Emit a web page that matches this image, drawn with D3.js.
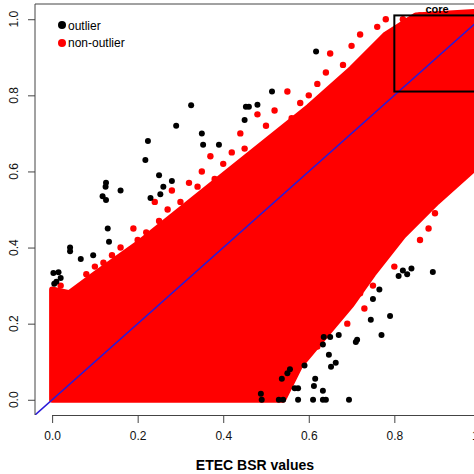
<!DOCTYPE html>
<html><head><meta charset="utf-8">
<script src="https://cdn.jsdelivr.net/npm/d3@7"></script>
<style>body{margin:0;background:#fff}svg{font-family:"Liberation Sans",Arial,sans-serif}</style>
</head><body><svg id="c" width="474" height="474"></svg>
<script>
const xTicks=[0,0.2,0.4,0.6,0.8,1.0];
const yTicks=[0,0.2,0.4,0.6,0.8,1.0];
// dense region boundary of the non-outlier cloud (data coords)
const denseRegion=[[0,0],[0,0.29],[0.04,0.28],[0.1,0.33],[0.2,0.41],[0.3,0.5],[0.4,0.59],[0.5,0.68],[0.6,0.77],[0.7,0.87],[0.78,0.96],[0.85,1.01],[1.0,1.02],[1.0,0.62],[0.9,0.52],[0.82,0.43],[0.75,0.33],[0.7,0.25],[0.64,0.17],[0.58,0.09],[0.54,0.0]];
const nonOutlierX=[0.02,0.06,0.08,0.1,0.12,0.14,0.16,0.18,0.2,0.22,0.19,0.25,0.27,0.24,0.3,0.28,0.32,0.35,0.37,0.34,0.38,0.4,0.42,0.45,0.44,0.48,0.5,0.52,0.55,0.56,0.58,0.6,0.62,0.64,0.65,0.68,0.7,0.72,0.74,0.76,0.78,0.82,0.86,0.9,0.95,
0.86,0.81,0.8,0.75,0.73,0.69,0.64,0.59,0.58,0.5,0.47,0.965,0.925,0.87,0.86,0.895,0.84,0.88,0.78,0.72,0.66,0.62,0.55,0.53,0.91,0.98,0.93];
const nonOutlierY=[0.3,0.29,0.33,0.35,0.36,0.38,0.4,0.39,0.42,0.44,0.45,0.47,0.5,0.52,0.52,0.55,0.57,0.6,0.64,0.56,0.58,0.62,0.65,0.66,0.7,0.75,0.72,0.76,0.81,0.74,0.78,0.8,0.83,0.86,0.91,0.88,0.93,0.96,0.9,0.98,1.0,1.0,1.01,1.01,1.01,
0.42,0.42,0.35,0.3,0.24,0.2,0.17,0.165,0.11,0.05,0.01,0.66,0.66,0.62,0.55,0.49,0.52,0.45,0.38,0.28,0.22,0.14,0.08,0.02,0.56,0.72,0.6];
const outlierX=[0.325,0.29,0.35,0.353,0.39,0.224,0.218,0.25,0.26,0.253,0.23,0.28,0.16,0.126,0.125,0.118,0.126,0.13,0.042,0.042,0.067,0.096,0.133,0.003,0.015,0.02,0.005,0.01,0.617,0.514,0.453,0.46,0.48,0.45,0.89,0.84,0.83,0.81,0.82,0.765,0.75,0.79,0.745,0.77,0.67,0.65,0.635,0.633,0.713,0.71,0.647,0.652,0.663,0.59,0.556,0.55,0.537,0.615,0.612,0.633,0.567,0.575,0.488,0.49,0.53,0.54,0.575,0.61,0.633,0.64,0.694];
const outlierY=[0.774,0.72,0.70,0.67,0.67,0.68,0.63,0.59,0.56,0.54,0.53,0.575,0.55,0.57,0.56,0.535,0.525,0.45,0.40,0.39,0.37,0.38,0.415,0.333,0.335,0.32,0.305,0.31,0.915,0.81,0.77,0.77,0.775,0.735,0.336,0.345,0.33,0.325,0.34,0.29,0.265,0.22,0.21,0.17,0.17,0.165,0.165,0.145,0.158,0.152,0.118,0.087,0.097,0.09,0.08,0.07,0.055,0.055,0.036,0.024,0.03,0.03,0.016,0.0,0.0,0.0,0.0,0.0,0.0,0.0,0.0];
const coreBox={x0:0.80,x1:1.05,y0:0.81,y1:1.01};

const svg=d3.select("#c");
const x=d3.scaleLinear().domain([-0.04,1.04]).range([35,497]);
const y=d3.scaleLinear().domain([-0.04,1.04]).range([415,4]);
const g=svg.append("g");
g.append("defs").append("clipPath").attr("id","clip").append("rect").attr("x",35).attr("y",4).attr("width",440).attr("height",411);
const p=g.append("g").attr("clip-path","url(#clip)");
const red="#ff0000";
p.append("path").attr("d",d3.line().x(d=>x(d[0])).y(d=>y(d[1]))(denseRegion)+"Z").attr("fill",red).attr("stroke",red).attr("stroke-width",6).attr("stroke-linejoin","round");
p.selectAll("circle.r").data(nonOutlierX.map((v,i)=>[v,nonOutlierY[i]])).join("circle").attr("class","r")
 .attr("cx",d=>x(d[0])).attr("cy",d=>y(d[1])).attr("r",3.2).attr("fill",red);
p.selectAll("circle.b").data(outlierX.map((v,i)=>[v,outlierY[i]])).join("circle").attr("class","b")
 .attr("cx",d=>x(d[0])).attr("cy",d=>y(d[1])).attr("r",3).attr("fill","#000");
p.append("line").attr("x1",x(-0.04)).attr("y1",y(-0.04)).attr("x2",x(1.04)).attr("y2",y(1.04)).attr("stroke","#2a1ad8").attr("stroke-width",1.6);
p.append("rect").attr("x",x(coreBox.x0)).attr("y",y(coreBox.y1)).attr("width",x(coreBox.x1)-x(coreBox.x0)).attr("height",y(coreBox.y0)-y(coreBox.y1))
 .attr("fill","none").attr("stroke","#000").attr("stroke-width",2);
svg.append("text").attr("x",437).attr("y",13).attr("text-anchor","middle").attr("font-weight","bold").attr("font-size",11).text("core");
svg.append("path").attr("d","M35,415V4H480").attr("fill","none").attr("stroke","#444").attr("stroke-width",1);
const xa=svg.append("g").attr("transform","translate(0,415)").call(d3.axisBottom(x).tickValues(xTicks).tickFormat(d3.format(".1f")).tickSize(8).tickPadding(8));
xa.select(".domain").attr("d",`M${x(0)},0.5H${x(1)}`);
xa.selectAll("text").attr("font-size",12).attr("fill","#111");
const ya=svg.append("g").attr("transform","translate(35,0)").call(d3.axisLeft(y).tickValues(yTicks).tickFormat("").tickSize(7));
ya.select(".domain").remove();
svg.selectAll("text.yl").data(yTicks).join("text").attr("class","yl")
 .attr("transform",d=>`translate(18,${y(d)}) rotate(-90)`).attr("text-anchor","middle").attr("font-size",12).attr("fill","#111").text(d3.format(".1f"));
svg.selectAll("path.domain,.tick line").attr("stroke","#444");
svg.append("text").attr("x",255).attr("y",470).attr("text-anchor","middle").attr("font-weight","bold").attr("font-size",14).text("ETEC BSR values");
svg.append("circle").attr("cx",62).attr("cy",25).attr("r",4).attr("fill","#000");
svg.append("text").attr("x",68).attr("y",30).attr("font-size",12).text("outlier");
svg.append("circle").attr("cx",62).attr("cy",43).attr("r",4).attr("fill",red);
svg.append("text").attr("x",68).attr("y",47).attr("font-size",12).text("non-outlier");
</script></body></html>
